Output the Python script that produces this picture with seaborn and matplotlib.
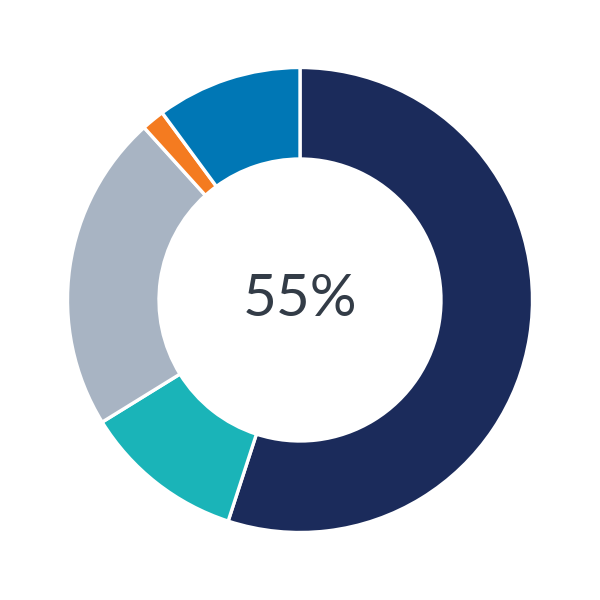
import matplotlib
matplotlib.use("Agg")
import matplotlib.pyplot as plt
import seaborn as sns

# share of each segment, clockwise from the top
segments = ["Navy", "Teal", "Gray", "Orange", "Blue"]
shares = [55.0, 11.2, 22.1, 1.6, 10.1]
colors = ["#1b2b5b", "#1ab4b8", "#a8b4c3", "#f47b20", "#0077b5"]
center_label = "55%"

sns.set_theme(style="white")
plt.rcParams["font.family"] = ["Lato", "DejaVu Sans"]

fig = plt.figure(figsize=(6, 6), dpi=100)
ax = fig.add_axes([0, 0, 1, 1])

ax.pie(shares, colors=colors, startangle=90, counterclock=False,
       radius=0.775,
       wedgeprops=dict(width=0.305, edgecolor="white", linewidth=2.4))
ax.text(0, 0, center_label, ha="center", va="center",
        fontsize=42, color="#333c47")

ax.set_xlim(-1, 1)
ax.set_ylim(-1, 1)
ax.set_aspect("equal")
ax.axis("off")

fig.savefig("out.png", dpi=100, facecolor="white")
